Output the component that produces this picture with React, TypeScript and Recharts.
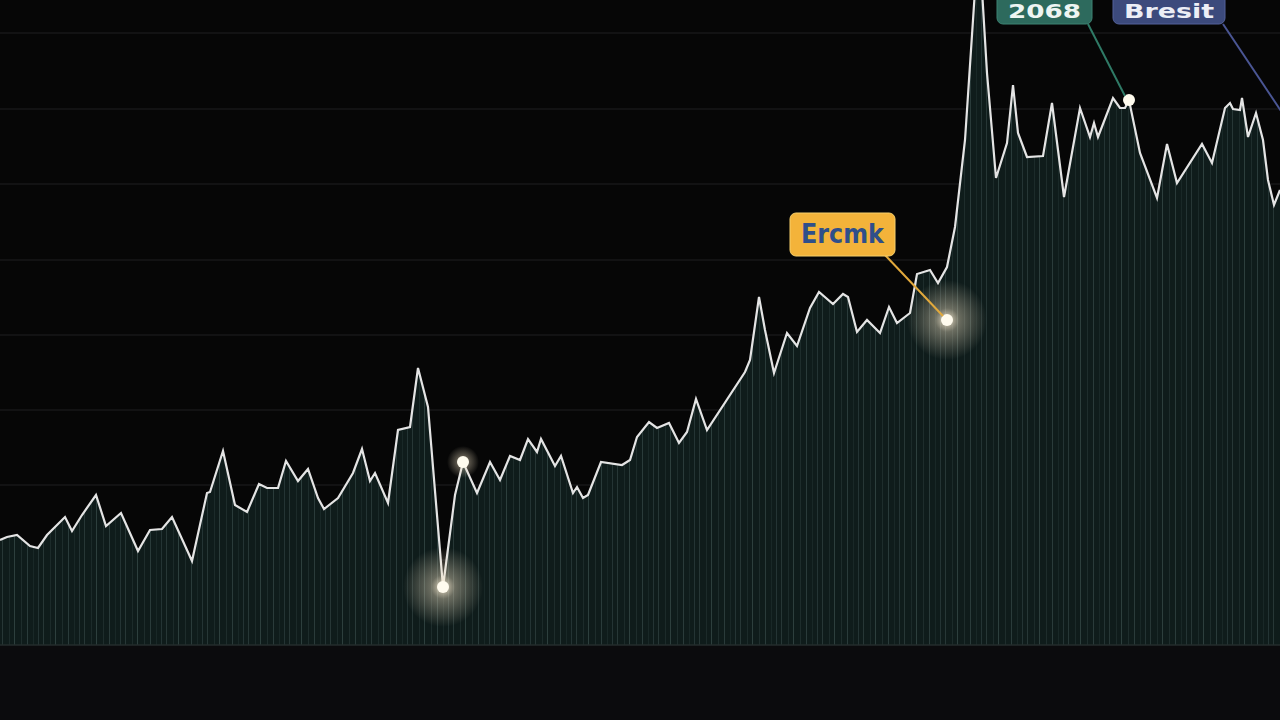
import React from 'react';
import { ComposedChart, Area, XAxis, YAxis, CartesianGrid, ReferenceDot, ReferenceLine } from 'recharts';

// time axis (arbitrary units) and index level
const t = [
  0, 0.7, 1.7, 3.0, 3.8, 4.7, 6.5, 7.2, 8.2, 9.6, 10.6, 12.1, 13.8, 15.0, 16.2, 17.2, 19.2, 20.7, 21.0, 22.3,
  23.5, 24.7, 25.9, 26.7, 27.8, 28.6, 29.8, 30.8, 31.8, 32.4, 33.8, 35.3, 36.2, 37.0, 37.5, 38.8, 39.8, 41.0, 41.8, 42.8,
  44.3, 45.5, 46.3, 47.7, 49.0, 50.0, 51.0, 52.0, 52.8, 53.7, 54.1, 55.5, 56.1, 57.3, 57.7, 58.3, 58.8, 60.1, 62.2, 63.0,
  63.7, 64.9, 65.7, 66.9, 67.9, 68.7, 69.6, 70.7, 74.5, 75.0, 75.9, 76.5, 77.4, 78.7, 79.7, 81.0, 81.9, 83.3, 84.3, 84.8,
  85.7, 86.7, 88.0, 88.9, 89.7, 91.0, 91.7, 93.0, 93.8, 94.7, 95.5, 96.5, 97.5, 98.2, 98.7, 99.6, 100.7, 101.3, 101.8, 102.7,
  104.3, 105.2, 106.4, 108.0, 109.0, 109.4, 109.8, 111.3, 112.0, 112.5, 112.9, 114.0, 115.7, 116.7, 117.7, 120.2, 121.2, 122.5, 123.0, 123.3,
  124.0, 124.2, 124.8, 125.6, 126.3, 126.8, 127.4, 128.0,
];
const level = [
  10.5, 10.8, 11.0, 9.9, 9.7, 11.0, 12.8, 11.4, 13.0, 15.0, 11.9, 13.2, 9.4, 11.5, 11.6, 12.8, 8.4, 15.2, 15.3, 19.4,
  14.0, 13.3, 16.1, 15.7, 15.7, 18.4, 16.4, 17.6, 14.7, 13.6, 14.7, 17.2, 19.6, 16.4, 17.2, 14.2, 21.5, 21.8, 27.7, 23.8,
  5.8, 15.0, 18.3, 15.2, 18.3, 16.5, 18.9, 18.5, 20.6, 19.3, 20.6, 17.9, 18.9, 15.2, 15.8, 14.7, 15.0, 18.3, 18.0, 18.5,
  20.8, 22.3, 21.7, 22.2, 20.2, 21.3, 24.6, 21.5, 27.3, 28.5, 34.8, 31.5, 27.2, 31.2, 29.9, 33.7, 35.3, 34.1, 35.1, 34.8,
  31.3, 32.5, 31.2, 33.8, 32.2, 33.2, 37.1, 37.5, 36.2, 37.8, 41.8, 50.5, 65.5, 65.5, 57.2, 46.7, 50.2, 56.0, 51.2, 48.8,
  48.9, 54.2, 44.8, 53.7, 50.8, 52.2, 50.8, 54.7, 53.7, 53.7, 54.5, 49.2, 44.7, 50.1, 46.2, 50.1, 48.2, 53.7, 54.2, 53.6,
  53.5, 54.7, 50.8, 53.2, 50.5, 46.5, 44.0, 45.5,
];
const gridValues = [8.5, 16.0, 23.5, 31.0, 38.5, 46.1, 53.6, 61.2];

// highlighted points
const markerT = [44.3, 46.3, 94.7, 112.9];
const markerV = [5.8, 18.3, 32.5, 54.5];
const markerKind = ['big', 'small', 'big', 'dot'];

// callouts
const calloutText = ['Ercmk', '2068', 'Bresit'];
const calloutT = [94.7, 112.9, 129.5];
const calloutV = [32.5, 54.5, 51.5];

const data = t.map((x, i) => ({ t: x, v: level[i] }));

const calloutStyle = [
  { dx: -157, dy: -107, w: 105, h: 43, fill: '#f3b33a', stroke: '#f7cf6a', text: '#2f4f8a', lead: '#e2a93c', lx: -62, ly: -65, fs: 27, ty: 1 },
  { dx: -132, dy: -124, w: 95, h: 48, fill: '#2d6a5d', stroke: '#3d8272', text: '#eef5f2', lead: '#2f7a66', lx: -41, ly: -76, fs: 20, ty: 12 },
  { dx: -182, dy: -154, w: 112, h: 48, fill: '#3c4a7c', stroke: '#53619a', text: '#eceef6', lead: '#4a5694', lx: -72, ly: -106, fs: 20, ty: 12 },
];

const GlowDot = ({ cx, cy, kind }: any) => {
  if (cx == null || cy == null) return null;
  const halo = kind === 'big' ? 40 : kind === 'small' ? 16 : 0;
  return (
    <g>
      {halo > 0 && <circle cx={cx} cy={cy} r={halo} fill="url(#glow)" />}
      <circle cx={cx} cy={cy} r={6} fill="#fffbee" />
    </g>
  );
};

const Callout = ({ cx, cy, idx }: any) => {
  if (cx == null || cy == null) return null;
  const s = calloutStyle[idx];
  return (
    <g>
      <line x1={cx + s.lx} y1={cy + s.ly} x2={cx - 4} y2={cy - 4} stroke={s.lead} strokeWidth={2} />
      <rect x={cx + s.dx} y={cy + s.dy} width={s.w} height={s.h} rx={6} fill={s.fill} stroke={s.stroke} strokeWidth={1} />
      <text
        x={cx + s.dx + s.w / 2}
        y={cy + s.dy + s.h / 2 + s.ty}
        textAnchor="middle"
        dominantBaseline="middle"
        fill={s.text}
        fontFamily="'DejaVu Sans', sans-serif"
        fontWeight="bold"
        fontSize={s.fs}
        textLength={s.w - 22}
        lengthAdjust="spacingAndGlyphs"
      >
        {calloutText[idx]}
      </text>
    </g>
  );
};

export default function App() {
  return (
    <div style={{ position: 'fixed', left: 0, top: 0, width: 1280, height: 720, background: '#0b0b0d', overflow: 'hidden' }}>
      <ComposedChart width={1280} height={720} data={data} margin={{ top: 0, right: 0, left: 0, bottom: 75 }}>
        <defs>
          <pattern id="stripes" width="41" height="8" patternUnits="userSpaceOnUse">
            <rect width="41" height="8" fill="#0f1c1b" />
            <rect x="2" width="1" height="8" fill="#7a9896" opacity="0.22" />
            <rect x="9" width="1" height="8" fill="#7a9896" opacity="0.12" />
            <rect x="14" width="1" height="8" fill="#7a9896" opacity="0.28" />
            <rect x="21" width="1" height="8" fill="#7a9896" opacity="0.14" />
            <rect x="27" width="1" height="8" fill="#7a9896" opacity="0.25" />
            <rect x="33" width="1" height="8" fill="#7a9896" opacity="0.1" />
            <rect x="38" width="1" height="8" fill="#7a9896" opacity="0.2" />
          </pattern>
          <radialGradient id="glow">
            <stop offset="0%" stopColor="#fff3da" stopOpacity={0.9} />
            <stop offset="30%" stopColor="#f5e6c8" stopOpacity={0.4} />
            <stop offset="100%" stopColor="#f5e6c8" stopOpacity={0} />
          </radialGradient>
        </defs>
        <CartesianGrid horizontal vertical={false} horizontalValues={gridValues} stroke="#1e1e20" fill="#060606" />
        <XAxis dataKey="t" type="number" domain={[0, 128]} hide />
        <YAxis type="number" domain={[0, 64.5]} allowDataOverflow hide />
        <Area
          type="linear"
          dataKey="v"
          stroke="#e4e4e4"
          strokeWidth={2.2}
          fill="url(#stripes)"
          fillOpacity={1}
          isAnimationActive={false}
          dot={false}
          activeDot={false}
        />
        <ReferenceLine y={0} stroke="#252d2d" strokeWidth={1.5} />
        {markerT.map((x, i) => (
          <ReferenceDot key={`m-${i}`} x={x} y={markerV[i]} r={6} ifOverflow="visible" shape={(p: any) => <GlowDot {...p} kind={markerKind[i]} />} />
        ))}
        {calloutT.map((x, i) => (
          <ReferenceDot key={`c-${i}`} x={x} y={calloutV[i]} r={4} ifOverflow="visible" shape={(p: any) => <Callout {...p} idx={i} />} />
        ))}
      </ComposedChart>
    </div>
  );
}
